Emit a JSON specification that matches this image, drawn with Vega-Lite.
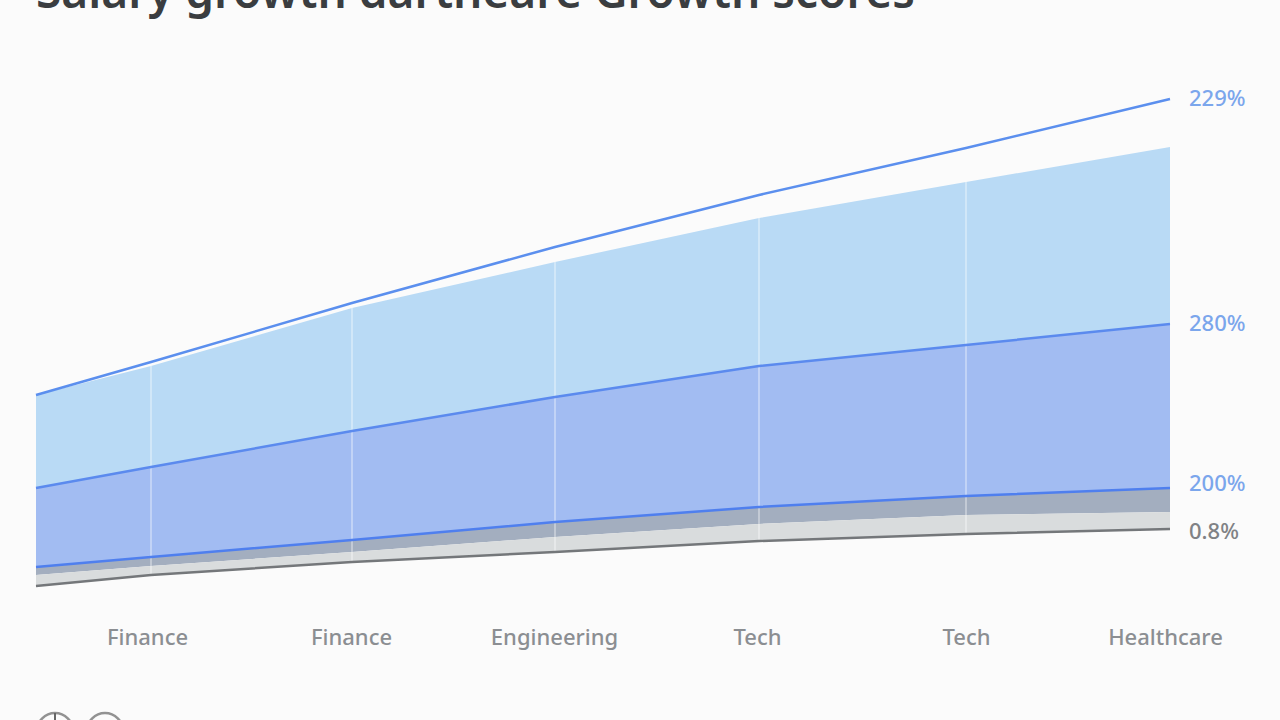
{
  "$schema": "https://vega.github.io/schema/vega-lite/v6.json",
  "autosize": "none",
  "width": 1134,
  "height": 540,
  "padding": {"left": 36, "right": 110, "top": 60, "bottom": 120},
  "background": "#fbfbfb",
  "config": {"view": {"stroke": null}, "font": "Noto Sans"},
  "title": {
    "text": "Salary growth dartheare  Growth scores",
    "anchor": "start",
    "frame": "group",
    "fontSize": 46,
    "fontWeight": 600,
    "font": "Noto Sans",
    "color": "#3a3d40",
    "offset": 42
  },
  "datasets": {
    "growth": [
      {"step": 0, "top": 102.5, "light": 102.5, "mid": 56, "low": 16.5, "gray": 12.5, "base": 7},
      {"step": 57.5, "top": 119, "light": 117, "mid": 66.5, "low": 21.5, "gray": 17, "base": 12.5},
      {"step": 158, "top": 148.5, "light": 146, "mid": 84.5, "low": 30, "gray": 24, "base": 19},
      {"step": 259.5, "top": 176.5, "light": 169, "mid": 101.5, "low": 39, "gray": 31.5, "base": 24},
      {"step": 361.5, "top": 202.5, "light": 191, "mid": 117, "low": 46.5, "gray": 38, "base": 29.5},
      {"step": 465, "top": 226, "light": 209, "mid": 127.5, "low": 52, "gray": 42.5, "base": 33},
      {"step": 567, "top": 250.5, "light": 226.5, "mid": 138, "low": 56, "gray": 44, "base": 35.5}
    ],
    "ends": [
      {"step": 567, "value": 250.5, "label": "229%", "group": "blue"},
      {"step": 567, "value": 138, "label": "280%", "group": "blue"},
      {"step": 567, "value": 58, "label": "200%", "group": "blue"},
      {"step": 567, "value": 34, "label": "0.8%", "group": "gray"}
    ],
    "icons": [
      {"step": 9.5, "value": -65.5},
      {"step": 34.5, "value": -65.5}
    ],
    "iconStems": [
      {"step": 9.5, "value": -56.5, "value2": -65.5}
    ]
  },
  "data": {"name": "growth"},
  "encoding": {
    "x": {
      "field": "step",
      "type": "quantitative",
      "title": null,
      "scale": {"domain": [0, 567], "nice": false, "zero": false},
      "axis": {
        "values": [55.5, 157.5, 259, 360.5, 465, 564.5],
        "labelExpr": "{'55.5':'Finance','157.5':'Finance','259':'Engineering','360.5':'Tech','465':'Tech','564.5':'Healthcare'}[datum.value + '']",
        "grid": false,
        "domain": false,
        "ticks": false,
        "labelPadding": 27,
        "labelFontSize": 22,
        "labelColor": "#8b8e92",
        "labelFlush": false,
        "labelOverlap": false,
        "labelFontWeight": 500
      }
    }
  },
  "layer": [
    {
      "mark": {"type": "area", "color": "#b9daf5", "opacity": 1},
      "encoding": {
        "y": {
          "field": "light",
          "type": "quantitative",
          "title": null,
          "scale": {"domain": [0, 270], "nice": false},
          "axis": null
        },
        "y2": {"field": "mid"}
      }
    },
    {
      "mark": {"type": "area", "color": "#a2bcf2"},
      "encoding": {"y": {"field": "mid", "type": "quantitative"}, "y2": {"field": "low"}}
    },
    {
      "mark": {"type": "area", "color": "#a3aebf"},
      "encoding": {"y": {"field": "low", "type": "quantitative"}, "y2": {"field": "gray"}}
    },
    {
      "mark": {"type": "area", "color": "#d9dcdd"},
      "encoding": {"y": {"field": "gray", "type": "quantitative"}, "y2": {"field": "base"}}
    },
    {
      "transform": [{"filter": "datum.step > 0 && datum.step < 567"}],
      "mark": {"type": "rule", "color": "#ffffff", "opacity": 0.35, "strokeWidth": 2},
      "encoding": {"y": {"field": "light", "type": "quantitative"}, "y2": {"field": "base"}}
    },
    {
      "mark": {"type": "line", "color": "#5b8fee", "strokeWidth": 2.5},
      "encoding": {"y": {"field": "top", "type": "quantitative"}}
    },
    {
      "mark": {"type": "line", "color": "#5b8aee", "strokeWidth": 2.5},
      "encoding": {"y": {"field": "mid", "type": "quantitative"}}
    },
    {
      "mark": {"type": "line", "color": "#4f7fee", "strokeWidth": 2.5},
      "encoding": {"y": {"field": "low", "type": "quantitative"}}
    },
    {
      "mark": {"type": "line", "color": "#74777a", "strokeWidth": 2.5},
      "encoding": {"y": {"field": "base", "type": "quantitative"}}
    },
    {
      "data": {"name": "ends"},
      "mark": {"type": "text", "align": "left", "dx": 19, "fontSize": 22, "fontWeight": 500, "clip": false},
      "encoding": {
        "y": {"field": "value", "type": "quantitative"},
        "text": {"field": "label"},
        "color": {
          "field": "group",
          "type": "nominal",
          "legend": null,
          "scale": {"domain": ["blue", "gray"], "range": ["#7ba6ec", "#808285"]}
        }
      }
    },
    {
      "data": {"name": "icons"},
      "mark": {"type": "point", "shape": "circle", "filled": false, "size": 1296, "color": "#666666", "strokeWidth": 2.5, "clip": false},
      "encoding": {"y": {"field": "value", "type": "quantitative"}}
    },
    {
      "data": {"name": "iconStems"},
      "mark": {"type": "rule", "color": "#666666", "strokeWidth": 2, "clip": false},
      "encoding": {"y": {"field": "value", "type": "quantitative"}, "y2": {"field": "value2"}}
    }
  ]
}
